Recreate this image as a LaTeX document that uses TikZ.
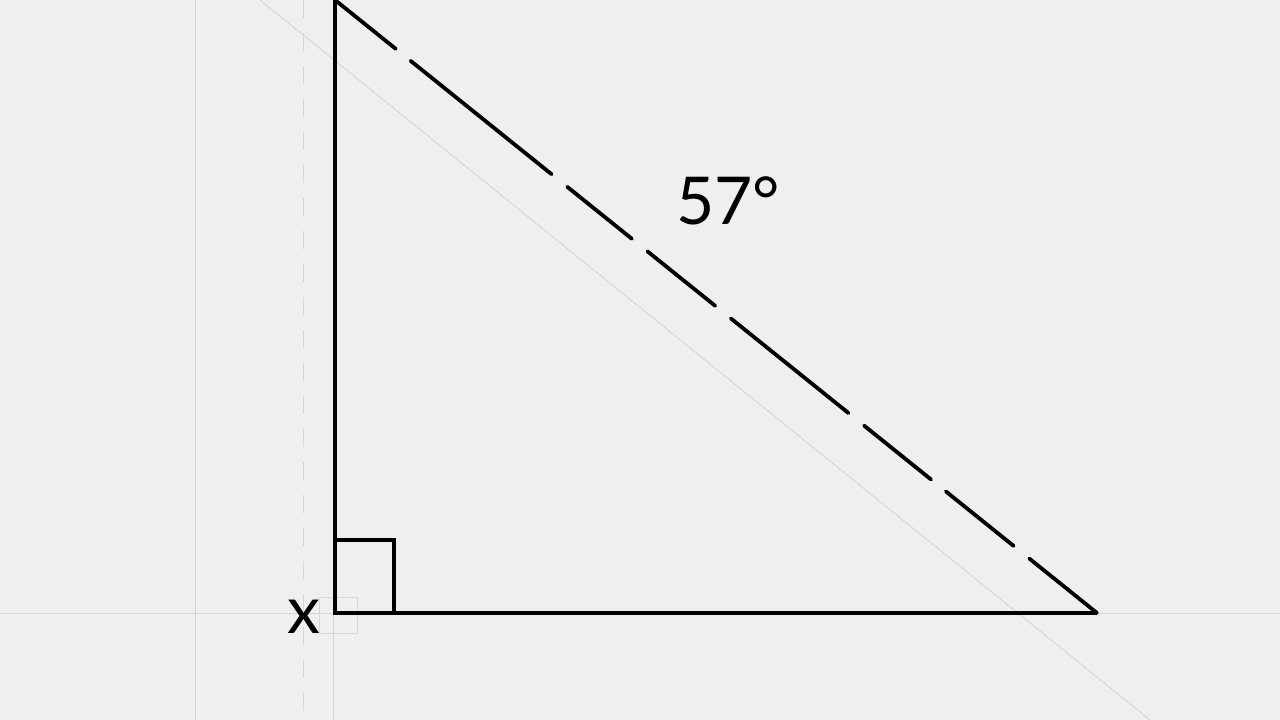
\documentclass[tikz,border=0pt]{standalone}
\usepackage{fontspec}
\setmainfont{Lato}
\usepackage{tikz}
\definecolor{paper}{HTML}{EFEFEF}
\definecolor{guide}{HTML}{D6D6D6}
\tikzset{
  guideline/.style={guide,line width=1pt},
  edge/.style={black,line width=3.8pt},
  label/.style={font=\fontsize{66}{70}\selectfont,inner sep=0pt}
}

\begin{document}
\begin{tikzpicture}[x=1pt,y=-1pt]
\fill[paper] (0,0) rectangle (1280,720);
\useasboundingbox (0,0) rectangle (1280,720);
% construction lines
\draw[guideline] (195,0)--(195,720);
\draw[guideline,dash pattern=on 18pt off 15pt] (303,0)--(303,720);
\draw[guideline] (0,613)--(1280,613);
\draw[guideline] (333,613)--(333,720);
\draw[guideline] (260,0)--(1150,720);
\draw[guideline] (319,597) rectangle (357,633);
% triangle
\coordinate (apex) at (335,0);
\coordinate (corner) at (335,613);
\coordinate (base) at (1097,613);
\draw[edge] (apex)--(corner)--(base);
\draw[edge,line cap=round,dash pattern=on 78pt off 19pt on 181pt off 20pt on 83pt off 20pt on 87pt off 20pt on 151pt off 20pt on 86pt off 19pt on 87pt off 20pt on 90pt]
  (apex)--(base);
\draw[edge,line width=4.2pt] (corner) rectangle (394,540);
\node[label] (angle) at (728,201) {57°};
\node[label] (side) at (304,617) {x};
\end{tikzpicture}
\end{document}
